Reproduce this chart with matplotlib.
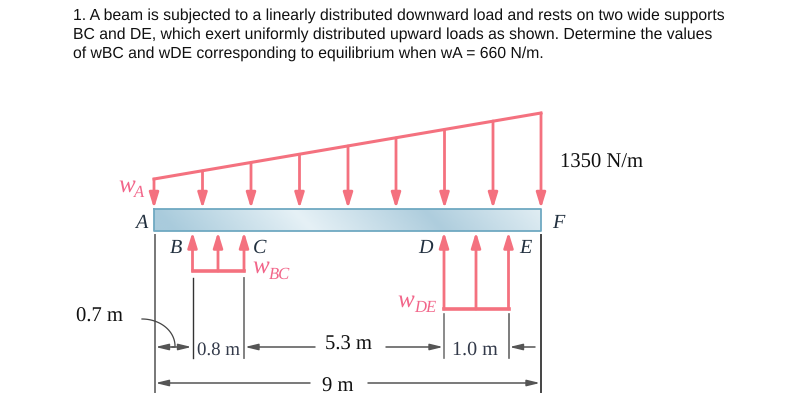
import numpy as np
import matplotlib
matplotlib.use("Agg")
import matplotlib.pyplot as plt
from matplotlib.colors import LinearSegmentedColormap

plt.rcParams["text.hinting"] = "no_hinting"

# Diagram values, in reference picture units
problem_lines = [
    "1. A beam is subjected to a linearly distributed downward load and rests on two wide supports",
    "BC and DE, which exert uniformly distributed upward loads as shown. Determine the values",
    "of wBC and wDE corresponding to equilibrium when wA = 660 N/m.",
]
problem_y = [15.5, 34.5, 54]
beam_x = [154, 541]
beam_y = [209, 231]
load_x = [154, 202.5, 251, 299.5, 348, 396, 444.5, 493, 541]
load_top = [179, 171, 163, 155, 146, 138, 130, 121, 113]
bc_x = [192.5, 218, 244]
bc_base = 271
de_x = [444, 476, 508.5]
de_base = 309
dim_y_upper = 347
dim_y_lower = 383

RED = "#f4717f"
PINK = "#f2668a"
GREY = "#555555"

fig = plt.figure(figsize=(8.01, 4.07), dpi=100, facecolor="white")
ax = fig.add_axes([0, 0, 1, 1])
ax.set_xlim(0, 801)
ax.set_ylim(407, 0)
ax.axis("off")

for line, y in zip(problem_lines, problem_y):
    ax.text(73, y, line, family="Liberation Sans", fontsize=11.38, color="#111111",
            va="center", ha="left")

# Beam
cmap = LinearSegmentedColormap.from_list(
    "beam", [(0, "#a9cbdc"), (0.36, "#e6f1f6"), (0.70, "#aecddd"), (1, "#e0edf3")])
gx, gy = np.meshgrid(np.linspace(0, 1, 300), np.linspace(0, 1, 20))
ax.imshow(gx - 0.05 * gy, cmap=cmap, aspect="auto", vmin=0, vmax=1,
          extent=[beam_x[0], beam_x[1], beam_y[1], beam_y[0]], zorder=1)
ax.plot([beam_x[0], beam_x[1], beam_x[1], beam_x[0], beam_x[0]],
        [beam_y[0], beam_y[0], beam_y[1], beam_y[1], beam_y[0]],
        color="#6fa9c2", lw=1.3, zorder=2)
ax.set_xlim(0, 801)
ax.set_ylim(407, 0)


def arrow(x0, y0, x1, y1, color=RED, lw=2.0, ms=14, z=3, hw=0.2, hl=0.65):
    ax.annotate("", xy=(x1, y1), xytext=(x0, y0), zorder=z,
                arrowprops=dict(arrowstyle=f"-|>,head_width={hw},head_length={hl}",
                                color=color, lw=lw, shrinkA=0, shrinkB=0,
                                mutation_scale=ms))


# Linear downward load
ax.plot([load_x[0], load_x[-1]], [load_top[0], load_top[-1]], color=RED, lw=2.2,
        solid_capstyle="projecting", zorder=3)
for x, top in zip(load_x, load_top):
    arrow(x, top, x, beam_y[0] - 0.5)

# Upward loads
for xs, base in ((bc_x, bc_base), (de_x, de_base)):
    ax.plot([xs[0], xs[-1]], [base, base], color=RED, lw=2.6,
            solid_capstyle="projecting", zorder=3)
    for x in xs:
        arrow(x, base, x, beam_y[1] + 1)

# Extension lines
ext = [(154.5, 235, 392, "#777777", 1.4), (192.5, 278, 358, "#333333", 1.0),
       (244, 278, 358, "#777777", 1.3), (444, 314, 358, "#777777", 1.2),
       (508.5, 314, 358, "#666666", 1.2), (541, 235, 392, "#444444", 1.4)]
for x, y0, y1, c, lw in ext:
    ax.plot([x, x], [y0, y1], color=c, lw=lw, zorder=2)

# Dimension arrows
dim = dict(color=GREY, lw=1.1, ms=11, hw=0.17, hl=0.7)
arrow(175, dim_y_upper, 155.5, dim_y_upper, **dim)
arrow(172, dim_y_upper, 191.5, dim_y_upper, **dim)
arrow(315, dim_y_upper, 245, dim_y_upper, **dim)
arrow(386, dim_y_upper, 443, dim_y_upper, **dim)
arrow(535, dim_y_upper, 509.5, dim_y_upper, **dim)
arrow(310, dim_y_lower, 155.5, dim_y_lower, **dim)
arrow(368, dim_y_lower, 540, dim_y_lower, **dim)

# Leader of 0.7 m
t = np.linspace(0, np.pi / 2, 40)
ax.plot(142 + 33 * np.sin(t), 319 + 27 * (1 - np.cos(t)),
        color="#444444", lw=0.9, zorder=2)

serif = "Liberation Serif"
for s, x, y, size, color in [
    ("0.7 m", 76, 317, 14.9, "#111111"),
    ("5.3 m", 325, 345, 14.9, "#111111"),
    ("9 m", 322, 387, 14.9, "#111111"),
    ("1350 N/m", 560, 163, 14.9, "#111111"),
    ("0.8 m", 197, 350, 13.6, "#333a4a"),
    ("1.0 m", 452, 350, 14.5, "#333a4a"),
]:
    ax.text(x, y, s, family=serif, fontsize=size, color=color, ha="left", va="center")

for s, x, y in [("A", 141, 223), ("B", 176, 248), ("C", 260, 248),
                ("D", 425, 248), ("E", 525, 248), ("F", 558, 223)]:
    ax.text(x, y, s, family=serif, style="italic", fontsize=14.5, color="#22303f",
            ha="center", va="center")

for w, sub, x, y, sx, sy in [("w", "A", 118, 186, 134, 193),
                             ("w", "BC", 252, 267, 269, 275),
                             ("w", "DE", 397, 301, 414, 308)]:
    ax.text(x, y, w, family=serif, style="italic", fontsize=18, color=PINK,
            ha="left", va="center")
    ax.text(sx, sy, sub, family=serif, style="italic", fontsize=12, color=PINK,
            ha="left", va="center")

fig.savefig("out.png", dpi=100, facecolor="white")
